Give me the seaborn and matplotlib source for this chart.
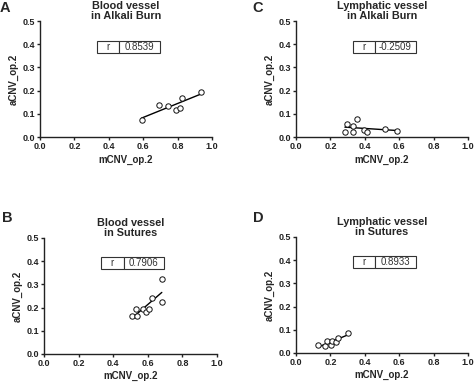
import matplotlib
matplotlib.use("Agg")
import matplotlib.pyplot as plt
import seaborn as sns
import pandas as pd

# values
a_x = [0.590, 0.689, 0.741, 0.789, 0.812, 0.826, 0.934]
a_y = [0.072, 0.139, 0.135, 0.118, 0.124, 0.168, 0.193]

c_x = [0.284, 0.294, 0.331, 0.331, 0.352, 0.395, 0.410, 0.516, 0.588]
c_y = [0.022, 0.055, 0.049, 0.020, 0.079, 0.032, 0.023, 0.036, 0.026]

b_x = [0.508, 0.531, 0.540, 0.575, 0.589, 0.608, 0.622, 0.680, 0.681]
b_y = [0.163, 0.192, 0.165, 0.192, 0.181, 0.192, 0.243, 0.324, 0.223]

d_x = [0.128, 0.166, 0.182, 0.205, 0.207, 0.232, 0.244, 0.304]
d_y = [0.035, 0.028, 0.051, 0.036, 0.051, 0.047, 0.064, 0.086]

panel_letters = ["A", "C", "B", "D"]
titles = ["Blood vessel\nin Alkali Burn", "Lymphatic vessel\nin Alkali Burn",
          "Blood vessel\nin Sutures", "Lymphatic vessel\nin Sutures"]
r_values = ["0.8539", "-0.2509", "0.7906", "0.8933"]
x_ticks = [0.0, 0.2, 0.4, 0.6, 0.8, 1.0]
y_ticks = [0.0, 0.1, 0.2, 0.3, 0.4, 0.5]

sns.set_style("ticks")
plt.rcParams['font.family'] = ['Liberation Sans', 'DejaVu Sans']

fig = plt.figure(figsize=(4.74, 3.82), dpi=100)

rects = [[0.0844, 0.641, 0.363, 0.304],
         [0.6245, 0.641, 0.363, 0.304],
         [0.0928, 0.0733, 0.365, 0.304],
         [0.6245, 0.076, 0.363, 0.304]]
letter_pos = [(0.0, 0.997), (0.533, 0.997), (0.004, 0.447), (0.533, 0.447)]
table_y = [0.724, 0.724, 0.732, 0.735]

datasets = [(a_x, a_y), (c_x, c_y), (b_x, b_y), (d_x, d_y)]

for i, (xs, ys) in enumerate(datasets):
    ax = fig.add_axes(rects[i])
    df = pd.DataFrame({'mCNV_op.2': xs, 'aCNV_op.2': ys})
    sns.regplot(data=df, x='mCNV_op.2', y='aCNV_op.2', ci=None, scatter=False,
                truncate=True, color='black', line_kws={'lw': 1.0}, ax=ax)
    sns.scatterplot(data=df, x='mCNV_op.2', y='aCNV_op.2', s=15,
                    facecolor='white', edgecolor='#111111', linewidth=0.7,
                    ax=ax, zorder=3)

    ax.set_xlim(0, 1.0)
    ax.set_ylim(0, 0.5)
    ax.set_xticks(x_ticks)
    ax.set_yticks(y_ticks)
    ax.set_xticklabels([f"{t:.1f}" for t in x_ticks], fontsize=6.5, fontweight='bold')
    ax.set_yticklabels([f"{t:.1f}" for t in y_ticks], fontsize=6.5, fontweight='bold')
    ax.tick_params(length=2.5, width=1, pad=1, colors='#222222')
    for s in ['left', 'bottom']:
        ax.spines[s].set_linewidth(1)
        ax.spines[s].set_color('#222222')
    sns.despine(ax=ax)
    ax.set_xlabel('mCNV_op.2', fontsize=7, fontweight='bold', labelpad=2.5)
    ax.set_ylabel('aCNV_op.2', fontsize=7, fontweight='bold', labelpad=3)
    ax.set_title(titles[i], fontsize=7.8, fontweight='bold', pad=1.5, linespacing=1.0)

    tab = ax.table(cellText=[["r", r_values[i]]], colWidths=[0.357, 0.643],
                   cellLoc='center', bbox=[0.329, table_y[i], 0.367, 0.104])
    tab.auto_set_font_size(False)
    tab.set_fontsize(7)
    for cell in tab.get_celld().values():
        cell.set_linewidth(0.8)
        cell.set_edgecolor('#333333')
        cell.get_text().set_color('#333333')

    fig.text(letter_pos[i][0], letter_pos[i][1], panel_letters[i],
             fontsize=10.5, fontweight='bold', va='top', ha='left')

fig.savefig("out.png", dpi=100)
